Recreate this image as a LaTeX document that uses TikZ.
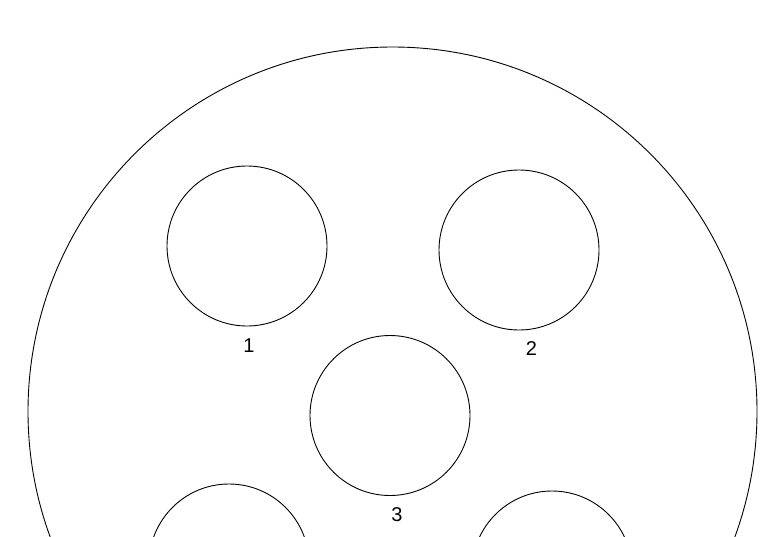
\documentclass[tikz,border=0pt]{standalone}
\usepackage{fontspec}
\setmainfont{Liberation Sans}
\usepackage{tikz}
\usetikzlibrary{shapes.geometric,positioning}
\tikzstyle{plate} = [circle, draw, line width=0.9pt, minimum size=729pt, inner sep=0pt]
\tikzstyle{hole} = [circle, draw, line width=0.9pt, minimum size=160pt, inner sep=0pt]
\tikzstyle{num} = [inner sep=0pt, font=\fontsize{20}{20}\selectfont]

\begin{document}
\begin{tikzpicture}[x=1pt, y=-1pt]
    \useasboundingbox (0,0) rectangle (781,536);
    \begin{scope}
    \clip (0,0) rectangle (781,536);
    \node[plate] (plate) at (392.5,411.5) {};

    \node[hole] (h1) at (247,246) {};
    \node[hole] (h2) at (519,250) {};
    \node[hole] (h3) at (390,415.5) {};
    \node[hole] (h4) at (229,564) {};
    \node[hole] (h5) at (552,571) {};
    \end{scope}

    \node[num] (n1) at (249,346) {1};
    \node[num] (n2) at (531.5,349) {2};
    \node[num] (n3) at (397,514.5) {3};
  \end{tikzpicture}
\end{document}
